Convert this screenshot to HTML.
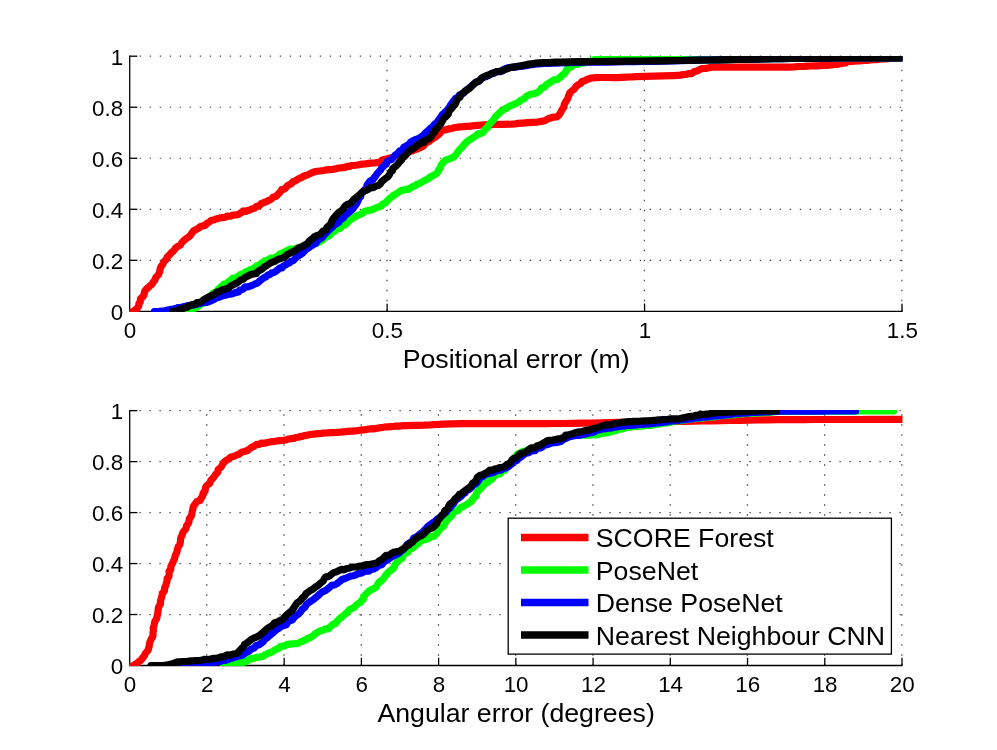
<!DOCTYPE html>
<html lang="en"><head><meta charset="utf-8"><title>Localisation error CDF</title>
<style>html,body{margin:0;padding:0;background:#fff;}svg{display:block;}text{font-family:"Liberation Sans",sans-serif;fill:#000;}.tk{font-size:22.4px;}.lb{font-size:26.7px;}</style>
</head><body>
<svg width="997" height="750" viewBox="0 0 997 750">
<rect x="0" y="0" width="997" height="750" fill="#fff"/>
<defs>
<clipPath id="c1"><rect x="129.0" y="56.0" width="773.5" height="256.0"/></clipPath>
<clipPath id="c2"><rect x="129.0" y="410.0" width="773.5" height="256.1"/></clipPath>
</defs>
<g id="plot-positional">
<line x1="139.75" y1="260.32" x2="902.6" y2="260.32" stroke="#404040" stroke-width="1.2" stroke-dasharray="1.3 8.7"/>
<line x1="139.75" y1="209.29" x2="902.6" y2="209.29" stroke="#404040" stroke-width="1.2" stroke-dasharray="1.3 8.7"/>
<line x1="139.75" y1="158.26" x2="902.6" y2="158.26" stroke="#404040" stroke-width="1.2" stroke-dasharray="1.3 8.7"/>
<line x1="139.75" y1="107.23" x2="902.6" y2="107.23" stroke="#404040" stroke-width="1.2" stroke-dasharray="1.3 8.7"/>
<line x1="139.75" y1="56.20" x2="902.6" y2="56.20" stroke="#404040" stroke-width="1.2" stroke-dasharray="1.3 8.7"/>
<line x1="386.98" y1="311.15" x2="386.98" y2="55.9" stroke="#404040" stroke-width="1.2" stroke-dasharray="1.3 8.7"/>
<line x1="644.42" y1="311.15" x2="644.42" y2="55.9" stroke="#404040" stroke-width="1.2" stroke-dasharray="1.3 8.7"/>
<line x1="901.85" y1="311.15" x2="901.85" y2="55.9" stroke="#404040" stroke-width="1.2" stroke-dasharray="1.3 8.7"/>
<path d="M129.70 55.60 V311.35 H902.60" fill="none" stroke="#000" stroke-width="1.3"/>
<line x1="129.70" y1="260.32" x2="137.40" y2="260.32" stroke="#000" stroke-width="1.3"/>
<line x1="129.70" y1="209.29" x2="137.40" y2="209.29" stroke="#000" stroke-width="1.3"/>
<line x1="129.70" y1="158.26" x2="137.40" y2="158.26" stroke="#000" stroke-width="1.3"/>
<line x1="129.70" y1="107.23" x2="137.40" y2="107.23" stroke="#000" stroke-width="1.3"/>
<line x1="129.70" y1="56.20" x2="137.40" y2="56.20" stroke="#000" stroke-width="1.3"/>
<line x1="387.13" y1="311.35" x2="387.13" y2="303.65" stroke="#000" stroke-width="1.3"/>
<line x1="644.57" y1="311.35" x2="644.57" y2="303.65" stroke="#000" stroke-width="1.3"/>
<line x1="902.00" y1="311.35" x2="902.00" y2="303.65" stroke="#000" stroke-width="1.3"/>
<g clip-path="url(#c1)">
<polyline points="128.0,313.6 130.5,313.1 133.3,311.3 135.5,309.8 137.1,308.3 138.8,305.9 138.9,303.5 140.2,302.1 140.5,298.8 143.4,296.2 144.3,293.5 144.7,291.3 146.3,289.2 147.9,287.8 149.5,286.3 151.7,284.5 153.2,282.2 154.8,280.1 155.8,277.5 158.5,274.6 159.8,271.3 160.1,268.9 160.9,266.8 162.7,264.3 164.1,261.5 166.7,258.9 167.1,257.1 169.5,254.9 171.9,252.2 173.7,250.8 175.6,248.1 177.3,246.7 180.6,244.8 181.6,242.9 183.1,241.3 185.5,239.2 187.7,237.6 189.4,236.4 190.9,234.6 192.1,232.8 193.4,231.0 196.5,229.3 198.5,228.3 200.0,226.7 203.1,225.8 205.1,225.4 206.7,223.4 209.6,221.8 211.4,220.3 213.6,220.0 215.8,219.1 218.1,218.3 221.9,217.6 224.9,217.3 227.1,216.2 230.9,216.1 232.9,215.0 236.4,215.0 238.4,214.3 241.3,212.6 243.5,210.9 245.6,211.5 247.4,210.5 249.6,210.1 252.4,208.7 254.8,208.3 256.2,206.6 259.1,205.9 261.3,203.6 264.5,202.2 266.6,201.6 268.7,200.3 270.8,199.5 273.1,197.3 275.9,196.4 278.3,193.9 280.5,191.8 281.5,189.7 283.6,189.5 285.9,187.6 287.0,186.1 289.2,184.7 291.3,183.7 292.7,181.9 295.5,180.8 298.3,178.9 301.3,177.7 303.5,176.2 306.6,175.2 308.9,174.2 311.9,172.8 314.7,171.7 317.5,171.3 319.5,171.0 323.1,170.6 326.3,169.9 329.4,169.6 332.2,169.4 334.2,169.1 335.9,168.7 338.4,168.1 341.6,167.7 344.7,167.6 346.8,166.4 349.6,166.4 351.6,165.5 355.1,165.3 357.5,165.0 360.1,164.5 362.2,164.1 365.6,163.9 369.1,163.4 371.7,163.1 373.8,163.0 377.0,162.7 380.1,162.0 381.8,160.2 384.2,159.5 386.4,159.0 389.4,158.1 392.1,157.7 395.2,156.1 396.9,155.1 400.1,154.3 403.4,154.1 405.8,153.8 407.4,152.4 409.8,151.4 412.9,150.7 414.6,149.7 417.3,149.0 420.2,147.6 423.2,146.3 425.1,143.7 427.5,142.1 429.1,141.5 431.6,139.2 433.5,138.2 436.2,136.4 438.4,134.7 440.2,132.9 442.8,130.1 446.6,129.7 448.5,128.8 451.4,128.6 453.9,127.7 457.4,127.2 463.4,126.7 466.2,126.4 469.3,126.4 472.5,125.9 474.6,125.7 478.4,125.3 481.0,125.0 483.6,124.9 492.6,124.5 502.1,124.3 511.3,124.2 514.8,124.0 518.0,123.4 521.3,123.1 523.8,123.1 526.0,122.7 528.9,122.7 532.1,122.4 537.6,122.1 540.8,121.4 543.1,121.1 545.3,120.5 548.1,118.8 551.3,117.8 553.5,117.1 556.8,116.8 558.7,115.4 560.8,112.2 562.0,109.7 563.8,107.4 564.3,104.3 566.3,100.9 567.6,98.8 568.6,96.0 569.8,92.9 571.8,91.0 574.5,88.9 575.9,86.6 577.5,85.1 580.4,83.6 582.2,81.4 584.3,81.0 587.6,79.2 590.7,78.2 592.7,78.0 595.9,77.6 598.3,77.5 607.5,77.5 610.2,77.5 612.7,77.7 615.6,77.7 617.9,77.6 620.9,77.4 623.1,77.4 626.0,77.2 629.5,77.0 632.7,76.8 635.9,76.7 645.1,76.4 654.2,76.1 663.4,75.9 672.4,75.6 674.5,75.6 677.0,75.3 680.3,75.1 683.6,74.5 686.2,74.5 688.3,73.7 691.6,73.7 694.3,71.6 697.1,71.0 699.3,69.8 701.5,68.7 703.7,68.5 706.4,68.4 709.3,67.6 711.6,67.2 715.3,67.2 724.7,67.0 734.1,67.1 743.1,67.1 752.1,67.1 761.6,67.1 771.0,67.1 780.4,67.1 789.6,67.2 793.0,67.0 795.1,66.8 797.7,66.5 801.1,66.5 804.3,66.4 807.5,66.1 810.6,66.0 814.4,65.8 816.8,65.8 820.0,65.6 823.2,65.3 826.4,65.3 829.5,65.1 832.9,64.7 836.0,64.3 838.6,64.2 840.3,63.6 843.2,63.1 845.4,62.9 848.2,61.6 851.1,61.4 854.0,61.2 857.9,61.0 861.1,60.8 864.8,60.3 868.0,60.3 870.1,60.0 872.1,59.7 874.4,59.5 876.8,59.6 879.8,59.2 883.4,59.0 887.3,58.8 890.4,58.4 893.4,58.4 895.2,58.4 897.5,58.1 899.6,58.0 902.0,57.9" fill="none" stroke="#ff0000" stroke-width="7.2" stroke-linejoin="round" stroke-linecap="round"/>
<polyline points="185.2,311.3 187.8,310.8 190.3,309.2 192.1,308.8 194.4,308.4 196.8,306.8 199.2,305.5 201.0,304.0 203.2,303.5 204.8,302.2 206.1,301.0 207.7,299.0 209.7,296.3 212.2,295.7 213.1,293.0 216.8,291.5 217.9,289.6 219.5,288.1 221.9,286.0 224.2,284.1 226.7,283.7 228.5,281.7 230.7,280.2 232.6,278.2 236.1,277.7 239.0,275.7 241.2,274.1 244.2,273.2 245.6,271.8 248.0,271.0 250.9,269.4 253.0,268.8 255.0,267.2 256.9,265.9 259.5,264.9 261.1,263.5 263.1,262.5 264.5,261.0 266.8,260.4 268.6,259.3 270.6,258.2 273.5,258.1 276.1,256.9 277.9,256.0 280.0,253.8 283.4,253.3 284.6,251.7 287.8,250.3 290.0,249.0 292.2,249.2 296.1,248.7 298.8,247.3 301.3,247.5 304.3,246.7 306.5,246.0 309.1,245.4 311.3,245.2 314.1,242.9 316.6,243.0 319.1,242.1 321.4,240.7 323.9,238.5 325.8,237.3 328.7,235.9 330.6,234.7 332.1,232.2 334.7,231.4 336.7,229.5 340.2,228.1 342.5,225.8 345.4,224.8 347.8,222.3 349.7,220.3 352.5,218.4 354.2,217.3 357.1,215.7 360.1,214.5 362.5,213.3 364.5,211.4 366.8,210.8 370.2,210.3 372.7,209.3 374.4,208.6 377.2,207.4 379.2,206.8 381.3,206.1 382.4,204.1 385.0,203.1 387.4,200.8 389.8,198.3 391.4,197.3 393.4,195.4 396.2,193.8 398.3,192.5 401.2,190.6 403.9,189.9 406.0,189.4 408.2,189.4 410.7,187.9 412.4,186.6 415.2,185.8 416.9,184.3 420.1,183.4 421.9,182.0 424.5,180.5 427.2,179.3 430.3,177.0 433.2,175.4 435.9,174.1 437.7,172.1 438.7,169.7 440.4,168.0 440.9,165.5 443.0,162.6 445.6,160.1 447.9,159.3 451.2,158.0 453.2,157.5 455.7,155.0 457.6,152.3 459.2,150.0 461.0,148.2 462.9,146.2 464.8,143.6 466.4,142.1 469.4,139.8 471.1,139.0 473.9,137.1 476.3,135.7 477.9,133.9 481.2,133.4 483.2,132.3 484.3,130.4 485.5,128.8 487.5,127.8 488.5,125.3 490.0,123.7 492.6,120.9 494.0,119.2 495.4,116.8 497.4,114.9 499.5,112.7 501.9,110.8 504.4,109.0 506.8,107.9 509.4,106.2 513.0,104.9 516.1,103.5 519.1,101.8 521.2,100.0 523.8,99.0 526.3,96.4 527.9,95.5 529.7,94.6 531.7,94.0 533.8,93.8 536.8,92.8 539.8,90.6 542.1,87.5 544.8,87.2 546.3,84.7 549.3,83.0 551.8,81.3 553.7,79.9 556.8,79.7 559.9,77.6 562.5,74.9 564.6,73.7 566.2,70.9 566.8,69.1 569.5,67.7 572.1,66.1 574.1,64.7 577.6,64.5 580.4,63.3 583.2,63.0 585.4,62.2 587.9,61.9 589.9,61.1 593.4,60.1 595.5,59.2 597.4,59.1 606.7,58.8 609.5,59.1 618.6,59.3 628.1,59.3 637.1,59.3 646.3,59.2 655.5,59.3 664.9,59.4 674.0,59.5 683.5,59.7 692.9,59.8 702.3,59.9 711.5,59.8 720.7,59.7 730.1,59.6 739.2,59.4 748.7,59.2 757.9,59.0 766.9,58.8 776.4,58.7 785.4,58.5 794.9,58.5 804.3,58.4 813.7,58.3 822.8,58.2 832.0,58.1 841.2,58.0 850.5,57.9 859.8,57.9 868.9,57.8 878.4,57.8 887.8,57.9 897.2,57.9 902.3,57.9" fill="none" stroke="#00ff00" stroke-width="7.2" stroke-linejoin="round" stroke-linecap="round"/>
<polyline points="154.4,311.6 156.7,311.5 159.6,311.4 162.0,311.0 164.4,310.8 167.7,310.1 170.6,309.4 173.2,309.0 176.3,308.4 178.0,307.5 180.2,307.7 183.5,306.7 186.7,305.9 190.0,305.4 192.2,305.1 195.0,304.6 197.8,303.9 200.5,303.4 203.0,302.6 206.3,302.5 209.7,301.3 212.2,300.4 214.2,299.4 216.3,297.7 218.4,297.5 220.5,296.6 223.2,295.7 225.3,295.3 227.5,294.5 229.7,294.2 231.8,294.0 235.3,292.6 238.5,292.0 239.8,289.9 243.1,289.2 245.1,286.9 247.8,286.9 250.8,285.8 252.8,285.1 255.1,283.9 257.3,283.1 259.7,281.0 261.4,279.6 264.0,277.8 266.0,276.8 267.9,275.0 270.1,274.5 271.7,272.9 273.9,272.5 276.3,270.9 277.9,269.7 279.9,267.8 282.0,268.0 283.3,266.0 285.6,265.0 287.0,263.9 289.4,263.0 290.8,261.2 293.5,260.5 295.5,258.2 297.6,256.3 299.5,255.2 302.3,253.3 303.8,251.9 306.1,249.4 308.7,247.8 310.4,246.5 312.2,245.4 314.0,244.2 315.8,243.5 317.2,240.9 319.8,239.0 322.1,237.6 323.7,235.5 325.6,233.5 328.1,230.9 330.6,228.7 332.3,227.4 333.4,225.7 335.7,224.2 338.9,222.2 339.9,220.2 341.7,219.2 343.4,217.8 345.0,215.2 346.7,214.2 349.1,212.2 351.1,210.5 353.1,208.8 354.1,207.0 356.1,204.4 357.6,201.8 358.6,199.1 360.6,196.6 361.4,193.3 363.1,192.0 364.9,189.4 366.7,188.0 366.9,185.5 368.0,183.7 370.1,181.1 373.1,179.2 375.4,176.2 376.9,173.9 379.1,171.6 380.7,169.9 381.7,167.8 384.4,165.3 386.2,164.2 387.2,161.6 388.9,160.5 391.3,159.6 392.8,158.1 394.9,155.4 398.0,153.2 399.7,150.8 402.3,149.9 403.7,147.4 406.1,146.0 407.8,144.9 409.5,144.1 410.6,142.1 413.1,140.8 416.2,139.3 418.9,138.3 420.9,137.1 423.5,135.2 425.9,132.5 428.6,130.2 431.0,127.7 432.6,126.9 434.8,124.0 437.0,122.3 438.2,120.6 439.2,119.3 441.2,116.6 442.2,114.7 444.5,112.8 446.8,110.4 448.3,108.8 450.0,106.0 451.7,103.4 453.6,101.0 455.2,98.7 457.3,97.9 459.2,95.2 461.9,94.1 464.4,92.4 466.6,89.9 469.1,88.1 471.2,86.3 473.8,84.2 476.3,82.0 479.2,80.9 481.2,78.6 483.2,77.6 485.9,76.7 488.7,75.5 490.9,73.7 494.0,73.2 495.9,71.9 497.8,71.5 500.3,71.7 502.6,70.8 504.7,68.9 508.2,67.8 510.5,67.5 512.5,67.4 514.6,67.0 516.3,67.1 518.4,66.5 521.3,66.5 524.2,66.0 527.3,65.5 530.4,64.6 532.4,64.7 535.1,64.3 538.4,63.8 541.5,63.7 544.2,63.5 546.5,63.4 549.1,63.4 551.7,63.2 553.9,63.1 556.1,63.1 559.4,62.8 568.7,62.6 578.1,62.4 587.3,62.2 596.6,62.2 606.2,62.1 615.3,61.9 624.6,61.7 634.0,61.6 643.3,61.5 652.4,61.3 661.6,61.1 670.9,60.9 680.0,60.7 689.2,60.4 698.4,60.2 707.8,60.0 716.9,59.8 726.4,59.6 735.8,59.5 744.9,59.3 754.4,59.1 763.4,58.9 772.8,58.7 782.0,58.6 791.2,58.5 800.2,58.4 809.4,58.3 818.5,58.2 827.8,58.1 836.9,58.0 845.9,57.9 855.4,57.9 864.4,57.8 873.6,57.8 882.6,57.8 892.1,57.9 901.3,57.9 902.3,57.9" fill="none" stroke="#0000ff" stroke-width="7.2" stroke-linejoin="round" stroke-linecap="round"/>
<polyline points="172.6,311.5 175.0,311.3 177.9,311.1 179.6,309.3 182.9,308.6 185.3,307.7 187.6,307.0 189.1,305.6 192.3,304.7 194.7,304.5 197.0,302.6 199.7,302.4 201.7,301.4 203.2,300.1 204.9,298.9 208.3,297.3 211.5,295.4 214.4,294.5 216.8,292.0 219.6,291.7 221.3,290.0 224.7,289.3 226.6,288.5 228.8,288.1 230.7,286.1 233.6,284.7 235.7,283.5 238.5,281.9 240.4,280.2 243.1,279.2 245.3,277.3 247.9,276.1 250.3,274.7 253.0,274.0 256.5,273.5 257.5,271.4 260.5,270.0 261.9,269.1 264.6,266.7 266.7,265.6 269.8,263.4 271.7,262.3 274.6,261.3 276.6,260.1 278.4,259.2 282.0,258.1 284.5,257.5 286.1,255.5 287.7,254.4 289.6,253.4 292.4,251.8 294.4,251.1 297.0,249.0 299.7,247.6 302.2,246.5 305.4,244.8 307.7,243.2 309.4,241.0 312.1,239.0 314.3,236.8 317.7,235.1 320.1,234.4 322.0,232.3 323.4,230.9 325.8,230.0 326.7,227.8 328.7,226.0 330.7,223.9 331.5,221.7 332.8,219.2 334.3,217.3 336.3,215.0 338.2,213.0 340.6,211.3 342.8,209.5 344.3,207.1 345.5,205.7 347.3,204.5 350.5,203.4 351.8,201.9 354.1,199.2 356.1,197.8 358.1,196.0 360.5,193.9 363.2,191.2 366.4,190.2 368.2,189.5 370.5,187.7 373.5,187.6 375.9,186.0 378.4,185.4 380.2,183.9 381.9,181.4 384.9,178.9 387.8,176.9 389.7,174.2 390.6,172.0 392.6,170.6 392.7,168.5 395.6,166.4 397.7,164.3 399.5,162.0 401.5,160.0 402.4,157.9 404.8,156.2 406.7,154.1 409.1,151.6 410.4,149.9 413.5,148.4 415.4,147.1 417.1,145.4 419.0,144.2 421.8,142.4 423.9,142.5 425.6,140.0 428.7,138.8 431.0,137.0 432.1,134.4 434.4,132.3 435.7,129.3 437.7,127.8 439.3,125.5 441.0,123.5 442.3,121.1 443.9,118.3 445.5,117.0 447.1,115.3 448.4,113.7 449.1,110.7 451.4,108.8 452.9,106.6 454.7,104.9 455.8,103.0 456.4,101.3 457.2,99.1 459.9,97.2 460.7,94.9 462.9,93.2 464.8,91.3 467.5,89.6 469.7,88.4 472.0,85.8 473.2,84.6 475.7,82.3 477.9,81.8 479.5,80.7 481.1,78.8 483.2,77.0 486.2,75.7 489.4,74.7 491.2,74.0 494.1,72.4 496.8,71.6 499.8,71.5 501.9,70.3 504.1,70.0 507.0,68.9 508.9,68.1 510.5,67.4 513.1,67.2 515.2,66.7 517.9,66.2 519.9,66.1 523.6,65.2 527.3,64.4 529.4,64.1 532.9,63.7 536.0,63.0 538.9,62.9 541.0,62.9 543.1,62.7 545.7,62.7 549.1,62.6 551.7,62.3 555.5,62.2 557.8,62.2 560.5,62.1 569.7,61.8 579.2,61.7 588.3,61.6 597.8,61.5 607.2,61.4 616.5,61.3 625.7,61.2 635.2,61.1 644.4,61.0 653.8,60.9 663.1,60.8 672.5,60.6 681.6,60.5 690.7,60.4 699.8,60.2 708.9,60.0 718.0,59.8 727.4,59.6 736.7,59.4 745.9,59.3 754.9,59.1 764.0,58.9 773.3,58.7 782.4,58.6 791.7,58.5 800.7,58.4 809.9,58.3 819.0,58.2 828.4,58.1 837.4,58.0 846.4,57.9 855.8,57.9 864.9,57.8 874.2,57.8 883.2,57.8 892.6,57.9 901.6,57.9 902.3,57.9" fill="none" stroke="#000000" stroke-width="7.2" stroke-linejoin="round" stroke-linecap="round"/>
</g>
<text class="tk" x="123.2" y="319.7" text-anchor="end">0</text>
<text class="tk" x="123.2" y="268.6" text-anchor="end">0.2</text>
<text class="tk" x="123.2" y="217.6" text-anchor="end">0.4</text>
<text class="tk" x="123.2" y="166.6" text-anchor="end">0.6</text>
<text class="tk" x="123.2" y="115.5" text-anchor="end">0.8</text>
<text class="tk" x="123.2" y="64.5" text-anchor="end">1</text>
<text class="tk" x="130.0" y="338.2" text-anchor="middle">0</text>
<text class="tk" x="387.4" y="338.2" text-anchor="middle">0.5</text>
<text class="tk" x="644.9" y="338.2" text-anchor="middle">1</text>
<text class="tk" x="902.3" y="338.2" text-anchor="middle">1.5</text>
<text class="lb" x="516.1" y="368.1" text-anchor="middle">Positional error (m)</text>
</g>
<g id="plot-angular">
<line x1="139.45" y1="614.53" x2="902.6" y2="614.53" stroke="#404040" stroke-width="1.2" stroke-dasharray="1.3 8.7"/>
<line x1="139.45" y1="563.56" x2="902.6" y2="563.56" stroke="#404040" stroke-width="1.2" stroke-dasharray="1.3 8.7"/>
<line x1="139.45" y1="512.59" x2="902.6" y2="512.59" stroke="#404040" stroke-width="1.2" stroke-dasharray="1.3 8.7"/>
<line x1="139.45" y1="461.62" x2="902.6" y2="461.62" stroke="#404040" stroke-width="1.2" stroke-dasharray="1.3 8.7"/>
<line x1="139.45" y1="410.65" x2="902.6" y2="410.65" stroke="#404040" stroke-width="1.2" stroke-dasharray="1.3 8.7"/>
<line x1="206.78" y1="665.65" x2="206.78" y2="410.3" stroke="#404040" stroke-width="1.2" stroke-dasharray="1.3 8.7"/>
<line x1="284.01" y1="665.65" x2="284.01" y2="410.3" stroke="#404040" stroke-width="1.2" stroke-dasharray="1.3 8.7"/>
<line x1="361.24" y1="665.65" x2="361.24" y2="410.3" stroke="#404040" stroke-width="1.2" stroke-dasharray="1.3 8.7"/>
<line x1="438.47" y1="665.65" x2="438.47" y2="410.3" stroke="#404040" stroke-width="1.2" stroke-dasharray="1.3 8.7"/>
<line x1="515.70" y1="665.65" x2="515.70" y2="410.3" stroke="#404040" stroke-width="1.2" stroke-dasharray="1.3 8.7"/>
<line x1="592.93" y1="665.65" x2="592.93" y2="410.3" stroke="#404040" stroke-width="1.2" stroke-dasharray="1.3 8.7"/>
<line x1="670.16" y1="665.65" x2="670.16" y2="410.3" stroke="#404040" stroke-width="1.2" stroke-dasharray="1.3 8.7"/>
<line x1="747.39" y1="665.65" x2="747.39" y2="410.3" stroke="#404040" stroke-width="1.2" stroke-dasharray="1.3 8.7"/>
<line x1="824.62" y1="665.65" x2="824.62" y2="410.3" stroke="#404040" stroke-width="1.2" stroke-dasharray="1.3 8.7"/>
<line x1="901.85" y1="665.65" x2="901.85" y2="410.3" stroke="#404040" stroke-width="1.2" stroke-dasharray="1.3 8.7"/>
<path d="M129.70 410.05 V665.50 H902.60" fill="none" stroke="#000" stroke-width="1.3"/>
<line x1="129.70" y1="614.53" x2="137.40" y2="614.53" stroke="#000" stroke-width="1.3"/>
<line x1="129.70" y1="563.56" x2="137.40" y2="563.56" stroke="#000" stroke-width="1.3"/>
<line x1="129.70" y1="512.59" x2="137.40" y2="512.59" stroke="#000" stroke-width="1.3"/>
<line x1="129.70" y1="461.62" x2="137.40" y2="461.62" stroke="#000" stroke-width="1.3"/>
<line x1="129.70" y1="410.65" x2="137.40" y2="410.65" stroke="#000" stroke-width="1.3"/>
<line x1="206.93" y1="665.50" x2="206.93" y2="657.80" stroke="#000" stroke-width="1.3"/>
<line x1="284.16" y1="665.50" x2="284.16" y2="657.80" stroke="#000" stroke-width="1.3"/>
<line x1="361.39" y1="665.50" x2="361.39" y2="657.80" stroke="#000" stroke-width="1.3"/>
<line x1="438.62" y1="665.50" x2="438.62" y2="657.80" stroke="#000" stroke-width="1.3"/>
<line x1="515.85" y1="665.50" x2="515.85" y2="657.80" stroke="#000" stroke-width="1.3"/>
<line x1="593.08" y1="665.50" x2="593.08" y2="657.80" stroke="#000" stroke-width="1.3"/>
<line x1="670.31" y1="665.50" x2="670.31" y2="657.80" stroke="#000" stroke-width="1.3"/>
<line x1="747.54" y1="665.50" x2="747.54" y2="657.80" stroke="#000" stroke-width="1.3"/>
<line x1="824.77" y1="665.50" x2="824.77" y2="657.80" stroke="#000" stroke-width="1.3"/>
<line x1="902.00" y1="665.50" x2="902.00" y2="657.80" stroke="#000" stroke-width="1.3"/>
<g clip-path="url(#c2)">
<polyline points="128.0,667.9 130.0,667.7 132.6,665.9 134.3,664.8 137.1,663.2 139.4,661.2 140.9,660.3 142.6,658.0 144.5,655.5 145.3,653.5 147.9,650.5 149.0,647.2 149.3,645.1 149.8,642.4 151.1,639.3 152.4,637.3 153.0,635.5 153.0,632.7 153.4,630.5 153.2,628.0 154.2,624.8 154.8,621.8 156.7,618.3 157.3,615.2 158.0,612.2 158.1,610.1 158.6,606.9 160.5,603.9 160.4,601.1 161.2,598.6 162.2,595.1 162.3,593.2 164.5,590.9 164.6,588.1 165.8,585.5 166.3,583.3 167.1,580.8 167.1,578.4 168.9,576.5 169.2,573.7 169.0,571.4 170.7,569.5 170.9,566.4 172.2,563.7 173.7,560.7 174.6,558.4 175.5,554.9 176.9,551.9 177.4,549.6 178.3,546.4 179.9,544.6 180.4,541.2 180.8,537.7 181.9,535.7 182.7,533.0 183.7,531.3 185.9,528.8 186.7,525.3 188.3,523.5 189.1,520.9 189.3,518.8 191.4,515.9 192.1,512.4 192.7,509.8 193.3,506.6 194.9,504.3 196.8,501.7 200.1,500.4 201.0,498.4 202.6,496.1 203.0,493.3 205.1,491.1 205.5,487.6 206.4,485.9 207.9,484.6 209.7,483.4 211.0,480.1 213.0,478.3 214.6,476.0 215.6,474.3 217.7,472.4 218.2,469.5 220.8,467.5 222.5,464.6 223.4,462.6 225.1,461.4 226.8,460.0 228.9,459.0 230.5,457.2 233.3,456.6 236.3,455.1 238.8,454.3 241.6,452.2 244.3,451.5 247.6,450.5 249.6,448.8 251.8,447.2 253.8,446.5 256.7,444.3 259.0,444.4 260.9,443.2 263.1,443.4 266.4,442.7 269.5,442.0 272.7,441.7 275.3,441.3 278.0,440.8 280.2,440.6 282.3,440.5 285.6,440.0 287.9,439.1 290.6,438.7 293.8,438.5 295.7,437.5 298.4,437.1 301.8,436.4 304.8,435.6 308.0,435.0 311.1,434.4 313.4,434.2 316.0,433.9 319.2,433.7 322.9,433.1 325.5,433.0 328.0,432.8 331.0,432.6 333.7,432.7 337.0,432.3 339.2,432.3 342.3,431.9 344.7,431.8 347.8,431.4 351.3,431.1 353.4,431.1 355.5,430.8 357.7,430.6 360.2,430.2 363.7,429.8 366.3,429.6 368.7,429.0 371.2,428.7 373.4,428.9 375.6,428.5 379.3,427.9 381.3,427.5 383.3,427.3 386.4,426.8 388.3,426.8 390.3,426.6 393.0,426.5 395.6,426.1 398.8,426.1 401.4,425.8 403.3,425.7 406.0,425.6 415.2,425.4 424.3,425.2 426.1,425.1 427.9,425.0 431.0,424.9 433.1,424.6 436.3,424.5 439.5,424.3 443.0,424.1 452.3,423.9 461.6,423.7 471.0,423.7 480.1,423.7 489.3,423.7 498.8,423.7 508.1,423.7 517.2,423.7 526.2,423.6 535.8,423.6 545.3,423.6 554.8,423.5 563.8,423.5 573.1,423.4 582.2,423.2 591.6,423.0 601.0,422.8 610.3,422.6 619.5,422.4 628.8,422.3 638.1,422.1 647.5,421.9 656.5,421.8 665.7,421.6 675.1,421.4 684.2,421.3 693.5,421.1 702.7,421.0 712.0,420.8 721.1,420.6 730.3,420.4 739.8,420.3 748.9,420.1 758.2,419.9 767.7,419.8 776.8,419.7 785.8,419.7 795.0,419.6 804.4,419.6 813.9,419.5 823.4,419.5 832.5,419.5 841.6,419.5 850.7,419.5 860.2,419.5 869.2,419.4 878.7,419.4 887.9,419.4 897.2,419.4 902.0,419.4" fill="none" stroke="#ff0000" stroke-width="7.2" stroke-linejoin="round" stroke-linecap="round"/>
<polyline points="223.3,664.8 226.7,664.2 228.9,664.4 231.2,663.7 234.4,663.4 237.8,662.8 241.3,662.3 244.4,662.2 247.4,660.9 250.0,658.7 253.7,658.4 255.9,657.5 259.3,657.1 262.6,656.4 265.9,654.4 268.7,653.0 271.0,652.4 273.3,650.9 276.6,649.0 278.4,648.5 280.9,646.3 282.6,646.2 284.4,646.1 286.6,644.6 289.4,644.1 293.2,643.8 295.8,643.7 298.0,643.4 300.8,641.9 303.7,640.4 305.9,640.0 307.6,638.2 310.5,637.6 313.3,635.6 315.3,633.8 318.3,631.8 321.0,630.7 323.4,630.0 325.4,628.8 328.4,628.8 330.5,626.5 332.6,624.5 335.4,623.5 337.5,620.7 340.1,618.4 342.4,616.5 345.4,614.0 347.4,612.1 349.3,609.7 352.4,608.3 354.8,606.9 355.8,605.5 358.3,603.5 360.4,602.5 361.5,600.3 363.5,599.2 363.8,596.3 365.3,594.8 367.6,592.4 369.2,591.0 371.5,589.5 373.8,588.7 376.6,586.6 377.4,584.8 379.1,582.1 381.0,580.9 383.0,579.2 384.9,576.5 386.4,574.5 387.8,572.8 390.2,570.7 393.0,568.7 394.1,567.0 395.2,564.4 396.9,562.2 398.9,559.7 401.8,558.6 403.2,555.5 405.0,553.5 407.6,552.5 409.2,549.4 411.9,548.4 413.7,547.2 416.1,544.8 418.3,543.8 420.3,541.5 422.3,540.4 425.4,539.5 428.2,538.7 431.1,536.5 434.0,536.3 436.3,534.0 438.3,531.4 439.6,529.5 441.2,527.8 443.8,526.2 444.5,524.1 446.2,521.3 448.0,519.0 449.3,518.0 451.5,515.8 453.4,512.8 455.0,511.5 457.9,510.7 460.4,507.8 463.2,506.4 465.2,505.4 468.2,503.4 471.1,501.7 472.7,499.2 474.1,497.2 476.2,496.0 476.3,493.4 477.7,491.6 479.4,489.8 481.1,488.1 482.7,486.1 485.0,483.7 487.8,482.3 489.9,479.6 492.2,479.0 493.8,476.5 495.7,475.3 497.5,473.8 499.8,473.9 502.2,471.0 504.9,470.5 506.2,467.8 508.1,466.3 510.3,463.7 511.9,461.4 513.2,459.7 515.2,457.2 516.5,455.2 518.0,453.6 520.2,452.8 523.0,451.3 525.8,451.1 528.3,449.4 531.7,449.1 533.7,447.9 537.0,447.6 539.1,445.9 541.5,444.5 544.5,444.5 547.4,443.4 549.4,442.9 552.5,441.3 555.4,441.1 558.4,440.2 560.4,439.6 562.7,439.3 565.4,438.7 568.0,436.7 570.8,436.0 573.7,435.5 576.5,435.3 579.5,434.9 584.4,435.1 586.5,435.1 590.5,435.2 592.8,434.7 595.5,434.8 597.6,434.6 600.4,433.7 602.3,433.5 604.9,432.8 607.1,432.7 609.1,432.2 612.0,431.8 614.3,430.4 616.8,430.5 618.5,428.9 620.6,429.2 623.3,428.7 626.0,427.5 628.7,427.3 630.9,427.0 633.3,426.4 635.7,426.4 637.8,426.4 641.2,426.0 644.6,425.8 647.2,425.3 650.7,425.4 653.4,424.7 655.6,424.6 658.9,423.9 661.2,423.7 664.4,422.8 667.0,422.8 668.8,422.6 671.3,422.2 673.9,421.3 675.7,420.9 678.2,421.0 681.5,420.5 683.7,420.2 686.8,419.7 689.1,419.5 691.4,419.0 694.2,418.6 697.8,418.3 701.5,418.2 703.4,418.0 706.8,417.5 710.3,417.1 712.3,416.7 715.0,416.8 718.4,416.1 720.7,415.8 722.7,415.7 725.4,415.3 728.7,415.0 732.0,414.8 734.7,414.6 737.2,414.1 739.1,414.0 741.3,414.0 743.7,413.8 746.1,413.4 748.7,413.4 752.4,413.1 754.5,413.0 756.7,413.1 760.2,412.7 762.2,412.7 765.2,412.4 767.6,412.5 769.4,412.3 772.4,412.0 775.3,411.7 777.9,411.5 787.0,411.3 796.3,411.2 805.8,411.2 814.9,411.2 824.4,411.1 833.6,411.1 843.1,411.1 852.5,411.1 861.6,411.0 870.7,411.0 879.8,411.0 889.0,411.0 893.4,411.0" fill="none" stroke="#00ff00" stroke-width="7.2" stroke-linejoin="round" stroke-linecap="round"/>
<polyline points="177.2,665.2 180.5,665.1 183.9,664.7 186.7,664.6 189.7,664.3 192.2,664.2 194.6,664.0 196.4,663.8 199.9,663.6 202.4,663.6 204.9,663.1 208.1,663.0 211.3,662.7 214.8,662.1 218.1,661.5 220.9,661.3 222.9,660.2 225.5,660.3 228.1,659.4 230.8,658.3 233.0,657.9 236.0,656.9 237.7,656.2 239.8,655.7 242.6,655.3 244.6,653.5 246.7,652.2 249.4,650.9 250.9,649.1 254.0,648.1 256.3,645.5 259.1,644.7 261.5,643.0 263.4,641.4 264.4,639.3 266.0,638.6 268.6,636.5 271.2,634.2 273.4,632.6 275.6,630.2 278.9,628.4 280.4,627.1 282.8,625.7 286.4,624.7 287.5,622.4 289.7,620.9 292.5,619.9 293.8,617.8 296.2,615.5 298.2,614.3 300.4,612.1 302.2,609.3 304.9,607.4 306.5,604.4 308.5,602.8 311.2,600.8 313.7,599.4 315.3,597.9 317.1,596.5 319.8,594.0 322.5,591.8 325.2,590.7 327.1,589.4 329.3,587.7 331.7,585.3 334.6,584.9 336.6,583.9 338.2,582.6 340.1,581.2 342.0,579.5 345.1,578.5 348.0,577.2 350.6,576.1 353.1,575.8 355.2,575.1 358.2,573.8 361.5,573.1 364.3,571.6 366.5,571.0 368.9,571.1 371.0,569.5 373.9,569.0 376.1,567.6 377.8,566.2 379.6,565.1 382.0,564.7 383.5,562.3 385.7,560.7 388.2,559.5 390.9,557.4 393.9,555.6 397.3,554.1 399.3,553.1 400.8,551.1 402.9,550.1 404.3,548.5 406.2,546.5 407.2,544.3 410.1,542.6 411.8,541.5 413.8,538.2 415.8,537.4 417.5,536.1 419.6,534.4 422.1,532.5 424.5,530.2 426.4,528.1 427.9,526.4 430.5,524.4 432.7,522.8 435.2,521.2 437.5,518.9 439.4,517.6 442.1,515.6 443.8,513.9 446.5,511.8 447.4,509.9 450.1,508.0 451.1,505.9 453.5,504.0 454.8,501.4 456.3,499.6 458.6,498.2 461.2,496.2 462.8,494.1 464.9,493.1 466.3,490.9 469.2,489.3 471.8,487.0 473.7,484.9 476.2,483.5 478.6,480.5 480.1,478.0 483.0,476.5 485.1,474.6 487.2,474.1 490.5,473.3 493.8,472.3 495.8,471.1 498.4,470.1 501.6,469.8 503.8,468.3 505.8,468.0 507.8,467.0 509.8,465.5 512.3,463.4 514.3,461.1 516.9,460.7 518.0,458.6 520.5,457.3 522.9,455.2 525.7,453.2 529.1,452.6 531.8,450.8 535.0,450.7 537.2,448.3 540.8,447.9 542.6,446.8 544.1,445.0 547.4,444.6 550.7,443.4 553.4,442.5 556.3,442.6 559.1,441.9 561.3,441.2 563.8,439.1 567.0,437.9 568.8,436.9 571.7,436.3 575.3,435.4 578.6,435.5 581.3,434.7 584.4,434.1 586.6,433.8 589.1,433.0 592.0,432.7 594.6,431.8 596.5,430.4 599.6,429.8 602.8,428.8 606.1,428.7 608.1,428.0 611.0,428.2 613.9,427.2 616.6,427.0 619.2,426.3 621.9,426.1 625.0,425.8 627.6,425.5 630.9,425.3 634.7,425.1 636.7,424.8 639.5,424.5 642.3,424.5 645.6,423.9 647.8,423.8 651.1,423.6 653.4,423.4 655.5,422.9 658.4,423.0 661.7,422.5 663.9,422.2 667.0,421.9 669.5,421.2 673.0,420.9 676.2,420.6 679.3,420.1 681.4,419.9 684.2,419.7 686.8,419.3 689.7,419.0 692.0,418.8 695.3,417.9 698.8,417.9 701.9,417.2 704.9,417.2 707.8,417.0 711.3,416.4 714.9,415.8 717.1,415.8 719.8,415.7 722.7,415.2 725.9,415.0 728.7,414.6 731.4,414.2 734.1,413.8 736.2,413.7 738.6,413.3 741.3,413.2 744.7,413.1 747.8,413.0 750.0,412.6 752.7,412.5 756.4,412.4 760.0,412.1 761.9,412.1 764.9,411.9 768.3,411.9 771.2,411.7 774.7,411.4 784.1,411.2 793.4,411.1 802.8,411.1 812.4,411.1 821.7,411.1 831.0,411.0 840.2,411.0 849.3,411.0 855.6,411.0" fill="none" stroke="#0000ff" stroke-width="7.2" stroke-linejoin="round" stroke-linecap="round"/>
<polyline points="151.0,665.7 160.4,665.6 162.7,665.6 164.7,665.3 166.6,665.2 168.5,664.7 171.5,663.9 174.1,663.2 177.4,661.8 180.1,661.9 183.2,661.5 185.4,661.5 187.7,661.3 191.0,660.9 193.5,660.8 196.2,660.5 199.9,660.4 202.1,660.2 204.2,659.4 207.3,659.5 210.8,659.1 213.9,658.3 217.0,658.3 218.9,657.7 221.0,656.8 223.6,656.7 227.0,654.9 230.1,655.2 233.0,654.0 235.1,653.7 237.2,653.1 239.5,650.8 241.6,648.3 243.9,646.5 244.7,644.3 247.1,642.9 250.0,640.6 252.2,638.9 254.5,637.8 257.2,636.8 259.1,635.8 261.7,633.6 263.6,631.8 265.7,629.9 267.2,628.6 269.3,627.1 272.5,625.5 274.6,622.8 277.2,622.2 280.0,620.5 283.0,619.4 284.3,617.3 286.5,615.2 288.9,613.0 290.1,611.9 291.9,610.6 293.8,607.9 295.7,604.8 297.3,602.6 299.4,601.5 300.8,600.0 302.4,597.8 304.1,596.7 306.0,593.7 307.8,592.4 309.8,590.8 312.8,589.3 315.1,587.2 317.8,585.6 320.1,583.5 323.0,581.2 324.5,578.4 325.8,576.8 328.3,576.6 330.1,575.4 331.9,574.0 333.7,572.6 336.6,571.8 339.6,570.2 341.6,569.3 344.0,569.9 346.8,568.5 349.1,568.2 352.1,567.2 353.8,567.0 357.1,566.8 359.4,566.1 361.8,566.1 364.9,565.0 367.3,564.5 370.6,564.3 374.3,563.5 377.0,562.9 379.7,560.5 381.8,559.6 384.3,557.2 386.2,555.3 389.3,555.2 391.4,553.5 393.9,552.1 396.0,551.8 399.7,551.1 401.7,549.9 404.4,548.0 406.4,546.0 409.2,544.8 410.2,542.9 412.5,542.2 414.6,539.6 416.9,538.1 418.4,536.7 421.0,535.8 422.9,534.7 424.5,533.2 426.8,530.8 429.1,529.2 431.8,528.2 434.4,526.1 436.8,523.5 438.0,520.4 439.5,518.8 440.6,517.2 441.9,515.3 444.3,513.1 444.8,510.6 447.4,509.2 448.3,507.0 449.4,504.7 451.4,502.9 453.7,501.3 455.2,498.6 457.5,497.0 459.4,494.3 461.6,493.7 463.7,491.6 466.0,489.9 468.7,488.0 471.1,486.0 472.4,483.3 474.8,482.0 476.6,479.2 477.4,477.2 480.2,475.3 482.4,474.9 484.3,473.8 487.1,472.4 489.7,470.1 492.0,470.4 494.5,469.1 497.4,468.4 500.2,467.5 502.4,467.2 504.5,466.6 507.0,464.3 509.3,463.9 510.6,462.1 511.8,460.2 513.4,458.7 516.7,457.5 518.8,454.8 520.6,453.5 524.3,452.6 527.2,450.9 529.5,449.3 531.3,447.8 534.6,447.9 537.4,445.7 540.3,445.1 542.1,443.9 544.8,442.2 547.1,440.8 549.2,440.4 553.0,440.1 554.6,439.7 556.8,439.1 560.5,438.7 563.9,437.5 565.8,435.0 568.2,435.0 571.0,434.3 572.9,433.6 575.4,432.7 577.5,432.1 580.5,431.9 583.3,431.1 586.5,430.2 589.2,430.2 592.3,428.9 595.9,428.1 598.9,427.2 601.0,426.4 603.9,425.4 606.5,424.8 610.1,424.9 612.5,424.5 614.4,423.6 618.2,423.0 620.1,422.6 621.8,422.4 624.5,422.1 627.6,421.7 630.9,421.7 634.2,421.4 636.7,421.4 640.0,421.2 642.3,421.0 644.5,420.9 648.3,420.8 650.6,420.7 653.9,420.3 656.1,420.3 658.3,419.9 661.7,419.7 663.9,419.5 667.5,419.3 669.9,419.0 671.9,418.9 673.7,418.9 676.2,418.8 679.5,418.8 681.7,418.3 683.5,417.7 686.0,417.3 689.3,416.6 691.5,416.4 693.7,416.2 695.6,415.4 697.8,415.1 701.3,414.4 704.2,414.5 706.4,414.1 709.4,413.8 712.7,413.1 715.0,412.8 716.9,412.6 719.7,412.5 721.6,412.5 723.7,412.4 727.0,412.2 728.8,412.0 731.1,412.1 734.5,411.9 737.2,411.6 740.4,411.5 742.8,411.5 745.9,411.3 755.4,411.0 764.7,410.8 774.0,410.8 776.4,410.8" fill="none" stroke="#000000" stroke-width="7.2" stroke-linejoin="round" stroke-linecap="round"/>
</g>
<g id="legend">
<rect x="508.2" y="518.2" width="383.2" height="135.9" fill="#fff" stroke="#000" stroke-width="1.3"/>
<line x1="521" y1="537.5" x2="588.5" y2="537.5" stroke="#ff0000" stroke-width="7.4"/>
<text class="lb" x="595.8" y="547.1">SCORE Forest</text>
<line x1="521" y1="570.0" x2="588.5" y2="570.0" stroke="#00ff00" stroke-width="7.4"/>
<text class="lb" x="595.8" y="579.6">PoseNet</text>
<line x1="521" y1="602.5" x2="588.5" y2="602.5" stroke="#0000ff" stroke-width="7.4"/>
<text class="lb" x="595.8" y="612.1">Dense PoseNet</text>
<line x1="521" y1="635.0" x2="588.5" y2="635.0" stroke="#000000" stroke-width="7.4"/>
<text class="lb" x="595.8" y="644.6">Nearest Neighbour CNN</text>
</g>
<text class="tk" x="123.2" y="673.8" text-anchor="end">0</text>
<text class="tk" x="123.2" y="622.8" text-anchor="end">0.2</text>
<text class="tk" x="123.2" y="571.9" text-anchor="end">0.4</text>
<text class="tk" x="123.2" y="520.9" text-anchor="end">0.6</text>
<text class="tk" x="123.2" y="469.9" text-anchor="end">0.8</text>
<text class="tk" x="123.2" y="418.9" text-anchor="end">1</text>
<text class="tk" x="130.0" y="692.3" text-anchor="middle">0</text>
<text class="tk" x="207.2" y="692.3" text-anchor="middle">2</text>
<text class="tk" x="284.5" y="692.3" text-anchor="middle">4</text>
<text class="tk" x="361.7" y="692.3" text-anchor="middle">6</text>
<text class="tk" x="438.9" y="692.3" text-anchor="middle">8</text>
<text class="tk" x="516.1" y="692.3" text-anchor="middle">10</text>
<text class="tk" x="593.4" y="692.3" text-anchor="middle">12</text>
<text class="tk" x="670.6" y="692.3" text-anchor="middle">14</text>
<text class="tk" x="747.8" y="692.3" text-anchor="middle">16</text>
<text class="tk" x="825.1" y="692.3" text-anchor="middle">18</text>
<text class="tk" x="902.3" y="692.3" text-anchor="middle">20</text>
<text class="lb" x="516.1" y="722.2" text-anchor="middle">Angular error (degrees)</text>
</g>
</svg>
</body></html>
